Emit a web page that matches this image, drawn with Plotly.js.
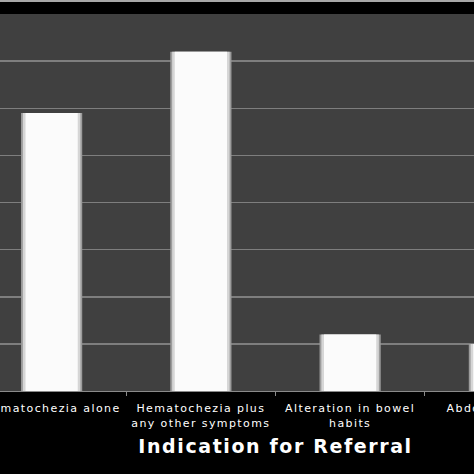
<!DOCTYPE html>
<html>
<head>
<meta charset="utf-8">
<script src="https://cdn.plot.ly/plotly-3.0.1.min.js"></script>
<style>
  html, body { margin: 0; padding: 0; background: #000; overflow: hidden; width: 474px; height: 474px; }
  #frame { position: absolute; left: 0; top: 0; width: 474px; height: 474px; overflow: hidden; border-top: 2px solid #a8a8a8; box-sizing: border-box; }
  #chart1 { position: absolute; left: -22.6px; top: 0; }
  /* the original labels are widely spaced */
  #chart1 .xtick text { letter-spacing: 1.4px; }
  #chart1 .xtitle { letter-spacing: 1.6px; }
</style>
</head>
<body>
<div id="frame"><div id="chart1"></div></div>
<script>
// categories along the x axis (the picture is cropped left and right)
var categories = [
    "Hematochezia alone",
    "Hematochezia plus<br>any other symptoms",
    "Alteration in bowel<br>habits",
    "Abdominal pain"
];
// number of patients per indication
var patients = [59, 72, 12, 10];

var xTitle = "Indication for Referral";

// bars are drawn as three overlaid layers to fake the shaded edges
var shades = [
    {color: "#9c9c9c", width: 0.41},
    {color: "#d6d6d6", width: 0.385},
    {color: "#fbfbfb", width: 0.35}
];

var chartData = shades.map(function(s) {
    return {
        type: "bar",
        x: categories,
        y: patients,
        width: s.width,
        marker: {color: s.color},
        hoverinfo: "x+y"
    };
});

var chartLayout = {
    width: 597,
    height: 472,
    margin: {l: 0, r: 0, t: 12, b: 83},
    paper_bgcolor: "#000000",
    plot_bgcolor: "#404040",
    showlegend: false,
    barmode: "overlay",
    font: {family: "DejaVu Sans", color: "#ffffff", size: 11},
    xaxis: {
        type: "category",
        range: [-0.5, 3.5],
        showline: true,
        linecolor: "#8a8a8a",
        linewidth: 1,
        ticks: "outside",
        tickson: "boundaries",
        ticklen: 4,
        tickcolor: "#8a8a8a",
        tickangle: 0,
        ticklabelstandoff: 7,
        tickfont: {family: "DejaVu Sans", size: 11, color: "#ffffff"},
        title: {
            text: xTitle,
            font: {family: "DejaVu Sans", size: 19, color: "#ffffff", weight: "bold"},
            standoff: 11
        }
    },
    yaxis: {
        range: [0, 80],
        dtick: 10,
        showticklabels: false,
        gridcolor: "#7e7e7e",
        gridwidth: 1.5,
        zeroline: false,
        showline: false
    }
};

var chartConfig = {displayModeBar: false, staticPlot: true};

Plotly.newPlot("chart1", chartData, chartLayout, chartConfig);
</script>
</body>
</html>
